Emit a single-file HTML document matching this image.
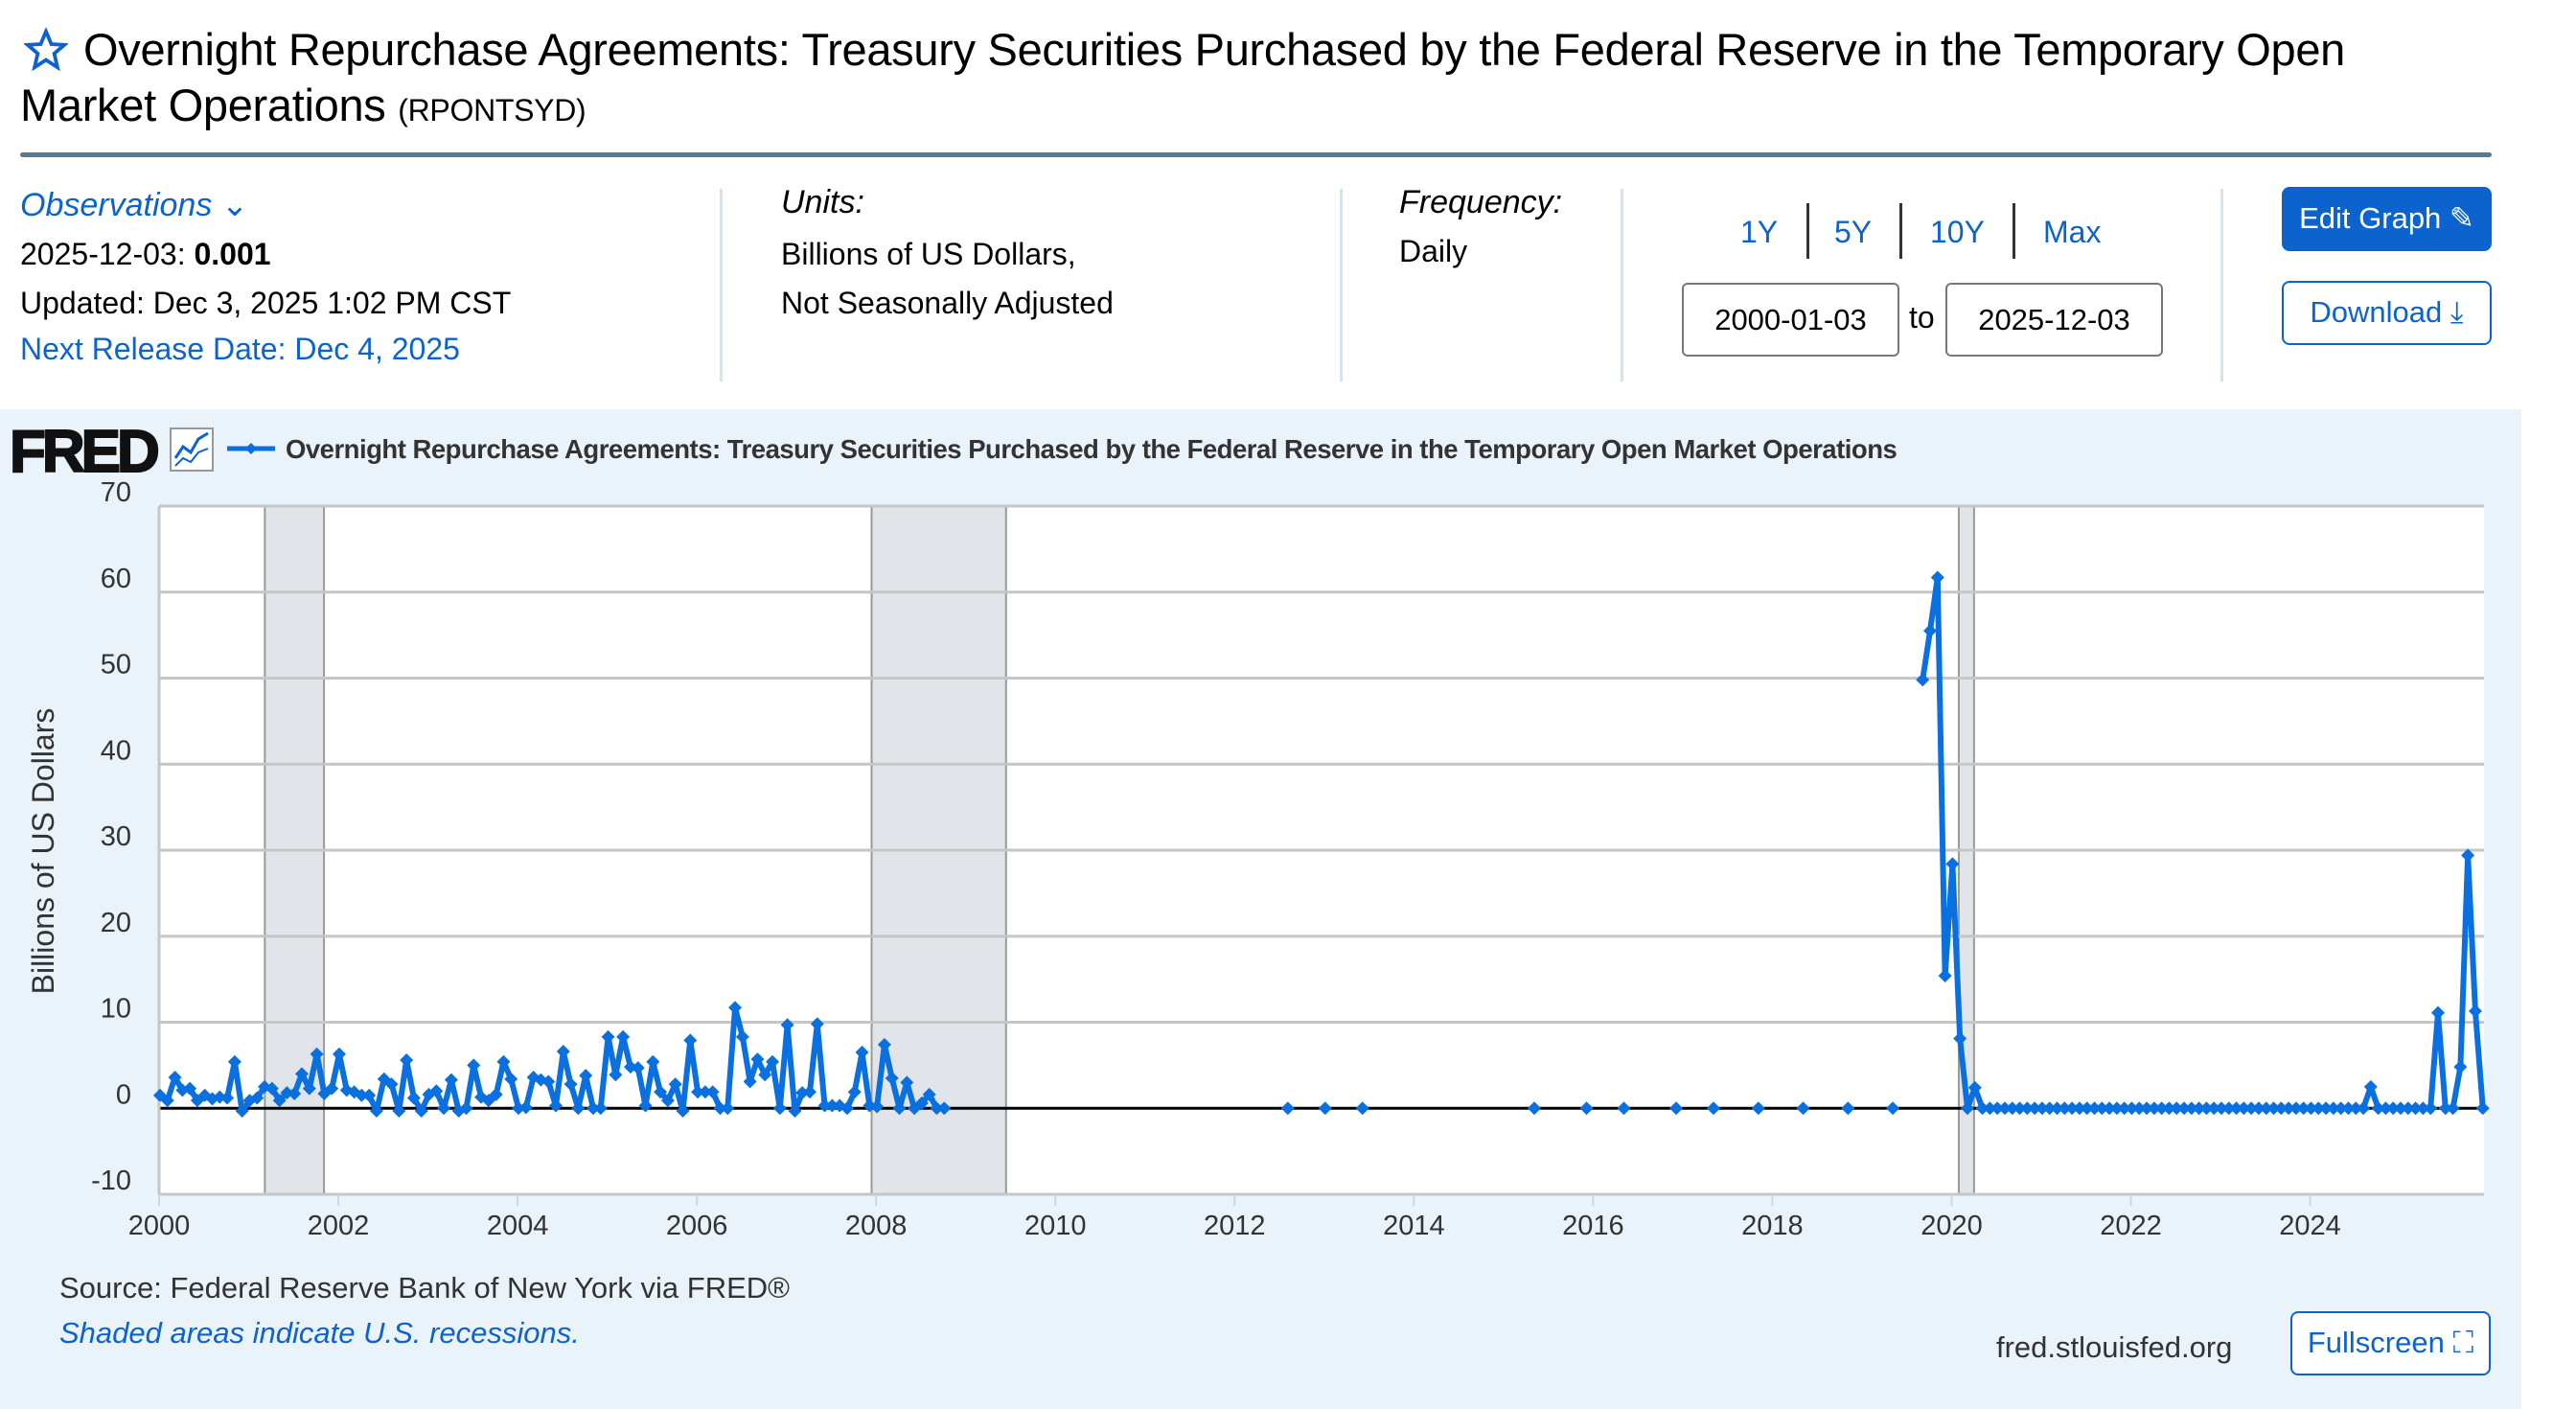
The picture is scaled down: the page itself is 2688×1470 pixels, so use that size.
<!DOCTYPE html>
<html><head><meta charset="utf-8">
<style>
*{box-sizing:border-box;margin:0;padding:0}
body{width:2688px;height:1470px;background:#fff;font-family:"Liberation Sans",sans-serif;color:#000;position:relative;overflow:hidden}
.abs{position:absolute;white-space:nowrap}
.t{font-size:47px;line-height:58px;letter-spacing:-0.3px}
.i{font-size:32px}
.blue{color:#0c63ce}
.vdiv{position:absolute;width:3px;background:#d5e3ec;top:197px;height:201px}
.btn{position:absolute;border:2px solid #0c63ce;border-radius:8px;font-size:31px;text-align:center;line-height:62px}
.datebox{position:absolute;border:2px solid #777;border-radius:6px;font-size:31px;text-align:center;line-height:73px;top:295px;height:77px;width:227px}
</style></head><body>
<svg class="abs" style="left:25px;top:29px" width="46" height="46" viewBox="0 0 24 24"><polygon points="12,2 14.9,8.9 22,9.3 16.5,14 18.2,21.5 12,17.5 5.8,21.5 7.5,14 2,9.3 9.1,8.9" fill="none" stroke="#0c63ce" stroke-width="2"/></svg>
<div class="abs t" style="left:87px;top:23px;">Overnight Repurchase Agreements: Treasury Securities Purchased by the Federal Reserve in the Temporary Open</div>
<div class="abs t" style="left:21px;top:81px;">Market Operations <span style="font-size:32px">(RPONTSYD)</span></div>
<div class="abs" style="left:21px;top:159px;width:2579px;height:5px;background:#587a94;border-radius:3px"></div>

<div class="abs i blue" style="left:21px;top:194px;font-style:italic;font-size:34px">Observations <span style="font-style:normal">&#8964;</span></div>
<div class="abs i" style="left:21px;top:247px">2025-12-03: <b>0.001</b></div>
<div class="abs i" style="left:21px;top:298px">Updated: Dec 3, 2025 1:02 PM CST</div>
<div class="abs i blue" style="left:21px;top:346px">Next Release Date: Dec 4, 2025</div>
<div class="vdiv" style="left:751px"></div>
<div class="abs i" style="left:815px;top:192px;font-style:italic;font-size:34px">Units:</div>
<div class="abs i" style="left:815px;top:240px;line-height:51px">Billions of US Dollars,<br>Not Seasonally Adjusted</div>
<div class="vdiv" style="left:1398px"></div>
<div class="abs i" style="left:1460px;top:192px;font-style:italic;font-size:34px">Frequency:</div>
<div class="abs i" style="left:1460px;top:244px">Daily</div>
<div class="vdiv" style="left:1691px"></div>
<div class="abs i blue" style="left:1816px;top:224px">1Y</div>
<div class="abs" style="left:1885px;top:212px;width:3px;height:58px;background:#333"></div>
<div class="abs i blue" style="left:1914px;top:224px">5Y</div>
<div class="abs" style="left:1982px;top:212px;width:3px;height:58px;background:#333"></div>
<div class="abs i blue" style="left:2014px;top:224px">10Y</div>
<div class="abs" style="left:2100px;top:212px;width:3px;height:58px;background:#333"></div>
<div class="abs i blue" style="left:2132px;top:224px">Max</div>
<div class="datebox" style="left:1755px">2000-01-03</div>
<div class="abs i" style="left:1992px;top:313px">to</div>
<div class="datebox" style="left:2030px">2025-12-03</div>
<div class="vdiv" style="left:2317px"></div>
<div class="btn" style="left:2381px;top:195px;width:219px;height:67px;background:#0c63ce;color:#fff">Edit Graph &#9998;</div>
<div class="btn blue" style="left:2381px;top:293px;width:219px;height:67px;background:#fff">Download &#10515;</div>

<div class="abs" style="left:0;top:427px;width:2631px;height:1043px;background:#eaf2fa"></div>
<div class="abs" style="left:10px;top:436px;font-size:62px;font-weight:900;letter-spacing:-4px;color:#111;-webkit-text-stroke:2px #111">FRED</div>
<svg class="abs" style="left:177px;top:446px" width="46" height="46"><rect x="1" y="1" width="44" height="44" fill="#fff" stroke="#999" stroke-width="2"/><polyline points="6,32 14,20 22,26 30,12 40,6" fill="none" stroke="#0c63ce" stroke-width="3"/><polyline points="6,40 14,32 22,36 30,26 40,22" fill="none" stroke="#0c63ce" stroke-width="2"/></svg>
<svg class="abs" style="left:237px;top:460px" width="50" height="16"><line x1="0" y1="8" x2="50" y2="8" stroke="#0a70e0" stroke-width="5"/><polygon points="25,2 31,8 25,14 19,8" fill="#0a70e0"/></svg>
<div class="abs" style="left:298px;top:453px;font-size:27.5px;font-weight:bold;color:#333;letter-spacing:-0.5px">Overnight Repurchase Agreements: Treasury Securities Purchased by the Federal Reserve in the Temporary Open Market Operations</div>

<svg id="chart" class="abs" style="left:0;top:0" width="2688" height="1470"></svg>

<div class="abs" style="left:62px;top:1326px;font-size:31px;color:#333">Source: Federal Reserve Bank of New York via FRED®</div>
<div class="abs blue" style="left:62px;top:1373px;font-size:31px;font-style:italic">Shaded areas indicate U.S. recessions.</div>
<div class="abs" style="left:2083px;top:1388px;font-size:31px;color:#333">fred.stlouisfed.org</div>
<div class="btn blue" style="left:2390px;top:1368px;width:209px;height:67px;background:#fff">Fullscreen ⛶</div>

<script>
const yTicks=[-10,0,10,20,30,40,50,60,70];
const xTicks=[2000,2002,2004,2006,2008,2010,2012,2014,2016,2018,2020,2022,2024];
const recessionStarts=[2001.18,2007.95,2020.08];
const recessionEnds=[2001.84,2009.45,2020.25];
const dates=[
"2000-01","2000-02","2000-03","2000-04","2000-05","2000-06","2000-07","2000-08","2000-09","2000-10","2000-11","2000-12",
"2001-01","2001-02","2001-03","2001-04","2001-05","2001-06","2001-07","2001-08","2001-09","2001-10","2001-11","2001-12",
"2002-01","2002-02","2002-03","2002-04","2002-05","2002-06","2002-07","2002-08","2002-09","2002-10","2002-11","2002-12",
"2003-01","2003-02","2003-03","2003-04","2003-05","2003-06","2003-07","2003-08","2003-09","2003-10","2003-11","2003-12",
"2004-01","2004-02","2004-03","2004-04","2004-05","2004-06","2004-07","2004-08","2004-09","2004-10","2004-11","2004-12",
"2005-01","2005-02","2005-03","2005-04","2005-05","2005-06","2005-07","2005-08","2005-09","2005-10","2005-11","2005-12",
"2006-01","2006-02","2006-03","2006-04","2006-05","2006-06","2006-07","2006-08","2006-09","2006-10","2006-11","2006-12",
"2007-01","2007-02","2007-03","2007-04","2007-05","2007-06","2007-07","2007-08","2007-09","2007-10","2007-11","2007-12",
"2008-01","2008-02","2008-03","2008-04","2008-05","2008-06","2008-07","2008-08","2008-09","2008-10",
"2012-08","2013-01","2013-06","2015-05","2015-12","2016-05","2016-12","2017-05","2017-11","2018-05","2018-11","2019-05",
"2019-09","2019-10","2019-11","2019-12",
"2020-01","2020-02","2020-03","2020-04","2020-05","2020-06","2020-07","2020-08","2020-09","2020-10","2020-11","2020-12",
"2021-01","2021-02","2021-03","2021-04","2021-05","2021-06","2021-07","2021-08","2021-09","2021-10","2021-11","2021-12",
"2022-01","2022-02","2022-03","2022-04","2022-05","2022-06","2022-07","2022-08","2022-09","2022-10","2022-11","2022-12",
"2023-01","2023-02","2023-03","2023-04","2023-05","2023-06","2023-07","2023-08","2023-09","2023-10","2023-11","2023-12",
"2024-01","2024-02","2024-03","2024-04","2024-05","2024-06","2024-07","2024-08","2024-09","2024-10","2024-11","2024-12",
"2025-01","2025-02","2025-03","2025-04","2025-05","2025-06","2025-07","2025-08","2025-09","2025-10","2025-11","2025-12"];
const values=[
1.5,0.9,3.6,2.1,2.3,0.9,1.5,1.1,1.3,1.2,5.4,-0.3,
0.9,1.2,2.5,2.3,0.9,1.8,1.7,4.0,2.3,6.3,1.7,2.3,
6.3,2.1,1.9,1.5,1.5,-0.3,3.4,2.8,-0.3,5.6,1.2,-0.3,
1.6,2.0,0,3.3,-0.3,0,5.0,1.3,0.9,1.6,5.4,3.4,
0,0.1,3.6,3.3,3.1,0.3,6.6,2.8,0,3.8,0,0,
8.3,3.9,8.3,4.8,4.7,0.3,5.4,1.9,0.9,2.8,-0.3,7.9,
1.9,1.9,1.9,0,0,11.7,8.3,3.1,5.7,3.9,5.4,0,
9.7,-0.3,1.8,1.9,9.8,0.3,0.3,0.3,0,1.9,6.5,0.3,
0.2,7.4,3.5,0,3.0,0,0.6,1.6,0,0,
0,0,0,0,0,0,0,0,0,0,0,0,
49.8,55.5,61.7,15.4,
28.4,8.1,0,2.4,0,0,0,0,0,0,0,0,
0,0,0,0,0,0,0,0,0,0,0,0,
0,0,0,0,0,0,0,0,0,0,0,0,
0,0,0,0,0,0,0,0,0,0,0,0,
0,0,0,0,0,0,0,0,2.5,0,0,0,
0,0,0,0,0,11.1,0,0,4.8,29.4,11.3,0.001];

const NS="http://www.w3.org/2000/svg";
const svg=document.getElementById('chart');
const L=166,R=2592,T=528,B=1246;
const x=y=>L+(y-2000)*(R-L)/(2025.94-2000);
const yv=v=>B-(v+10)*(B-T)/80;
const dYear=s=>{const p=s.split('-');return +p[0]+(+p[1]-1)/12+0.01;};
const mIdx=s=>{const p=s.split('-');return (+p[0])*12+(+p[1]);};
function mk(tag,attrs){const e=document.createElementNS(NS,tag);for(const k in attrs)e.setAttribute(k,attrs[k]);svg.appendChild(e);return e;}

let bg=mk('rect',{x:L,y:T,width:R-L,height:B-T,fill:'#fff'});


recessionStarts.forEach((s,i)=>{
  const r=mk('rect',{x:x(s),y:T,width:x(recessionEnds[i])-x(s),height:B-T,fill:'#e1e5e9'});
  
  
  [s,recessionEnds[i]].forEach(v=>{const l=mk('line',{x1:x(v),x2:x(v),y1:T,y2:B,stroke:'#999','stroke-width':2});
    
    });
});
yTicks.forEach(t=>{
  const g=mk('line',{x1:L,x2:R,y1:yv(t),y2:yv(t),stroke:t===0?'#000':'#c6c6c6','stroke-width':3});
  
  
  const tx=mk('text',{x:137,y:yv(t)-5,'text-anchor':'end','font-size':29,fill:'#333','font-family':'Liberation Sans, sans-serif'});
  tx.textContent=t;
  
  
});
mk('line',{x1:L,x2:L,y1:T,y2:B,stroke:'#c6c6c6','stroke-width':3});
xTicks.forEach(t=>{
  const tk=mk('line',{x1:x(t),x2:x(t),y1:B,y2:B+12,stroke:'#ccd6eb','stroke-width':2});
  
  
  const tx=mk('text',{x:x(t),y:B+42,'text-anchor':'middle','font-size':29,fill:'#333','font-family':'Liberation Sans, sans-serif'});
  tx.textContent=t;
  
  
});
const yt=mk('text',{x:0,y:0,'text-anchor':'middle','font-size':32,fill:'#333','font-family':'Liberation Sans, sans-serif',transform:'translate(56,888) rotate(-90)'});
yt.textContent='Billions of US Dollars';



let segs=[],cur=[];
dates.forEach((d,i)=>{
  if(i>0&&mIdx(d)-mIdx(dates[i-1])!==1){segs.push(cur);cur=[];}
  cur.push([x(dYear(d)),yv(values[i])]);
});
segs.push(cur);
segs.forEach(s=>{
  if(s.length<2)return;
  const p=mk('polyline',{points:s.map(q=>q.join(',')).join(' '),fill:'none',stroke:'#0a70e0','stroke-width':6,'stroke-linejoin':'round'});
  
  
});
dates.forEach((d,i)=>{
  const cx=x(dYear(d)),cy=yv(values[i]);
  const m=mk('polygon',{points:`${cx},${cy-7} ${cx+7},${cy} ${cx},${cy+7} ${cx-7},${cy}`,fill:'#0a70e0'});
  
  
});
</script>
</body></html>
